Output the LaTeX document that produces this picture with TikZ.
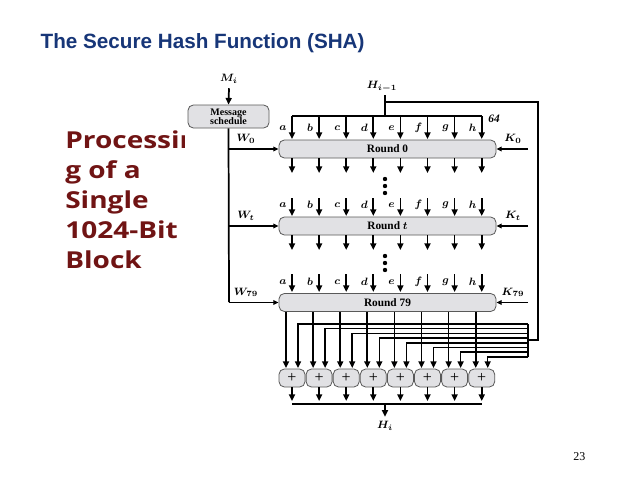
\documentclass[tikz,border=0pt]{standalone}
\usepackage{amsmath}
\usepackage{fontspec}
\setmainfont{Liberation Serif}
\newfontfamily\titlef{Liberation Sans}
\newfontfamily\sidef{Open Sans}
\usetikzlibrary{arrows.meta}
\definecolor{tblue}{RGB}{23,54,120}
\definecolor{dred}{RGB}{112,20,20}
\definecolor{boxg}{RGB}{225,225,228}
\begin{document}
\begin{tikzpicture}[x=0.75pt,y=-0.75pt,
  w/.style={line width=1.3pt},
  arr/.style={w,-{Triangle[length=5pt,width=4.5pt]}},
  thin/.style={line width=0.9pt,-{Triangle[length=4pt,width=3.5pt]}},
  rnd/.style={draw=gray!70!black,fill=boxg,rounded corners=4pt,line width=0.6pt,inner sep=0},
  lab/.style={font=\fontsize{8.5}{8.5}\selectfont\itshape\bfseries},
  rlab/.style={font=\fontsize{8.5}{9}\selectfont\bfseries}]
\useasboundingbox (0,0) rectangle (638,478);
\fill[white] (0,0) rectangle (638,478);
\node[anchor=west,text=tblue,font=\titlef\bfseries\fontsize{15.5}{18}\selectfont] (title) at (36,43) {The Secure Hash Function (SHA)};
\begin{scope}
\clip (0,100) rectangle (184,300);
\node[anchor=north west,text=dred,font=\sidef\bfseries\fontsize{17.5}{22.5}\selectfont,align=left,inner sep=0,transform shape,xscale=1.2] (side) at (65,131) {Processing\\g of a\\Single\\1024-Bit\\Block};
\end{scope}
\node[anchor=east,font=\fontsize{9}{9}\selectfont] (pg) at (590,457) {23};
% message schedule
\node[lab] (mi) at (229,79) {$\boldsymbol{M_i}$};
\node[rnd,minimum width=60.75pt,minimum height=17.25pt,align=center,font=\fontsize{7.5}{7.5}\selectfont\bfseries] (ms) at (228.5,116.5) {Message\\[-1pt]schedule};
\draw[arr] (mi.south) -- (ms.north);
\coordinate (wb) at (229,302);
\draw[w] (ms.south) -- (wb);
% rounds
\foreach \n/\y/\lbl/\wl/\kl in {r0/149/Round 0/W_0/K_0, rt/226/Round $\boldsymbol t$/W_t/K_t, r79/302.5/Round 79/W_{79}/K_{79}}{
  \node[rnd,minimum width=162.75pt,minimum height=13.5pt,rlab] (\n) at (387.5,\y) {\lbl};
  \coordinate (\n wl) at (229,\y);
  \coordinate (\n kr) at (528,\y);
  \draw[thin] (\n wl) -- (\n.west);
  \draw[thin] (\n kr) -- (\n.east);
  \node[lab] at (246,\y-10) {$\boldsymbol{\wl}$};
  \node[lab] at (513,\y-10) {$\boldsymbol{\kl}$};
}
\draw[w] (229,302.5) -- (r79wl);
\foreach \l [count=\i from 0] in {a,b,c,d,e,f,g,h}{
  \pgfmathsetmacro{\xx}{292+27.1*\i}
  \draw[arr] (\xx,116) -- (\xx,139);
  \draw[arr] (\xx,158) -- (\xx,173);
  \draw[arr] (\xx,198) -- (\xx,216);
  \draw[arr] (\xx,235) -- (\xx,250);
  \draw[arr] (\xx,274) -- (\xx,292);
  \node[lab] at (\xx-9,128) {$\boldsymbol{\l}$};
  \node[lab] at (\xx-9,205) {$\boldsymbol{\l}$};
  \node[lab] at (\xx-9,282) {$\boldsymbol{\l}$};
}
\node[lab] at (494,119) {64};
% H_{i-1}
\node[lab] (hin) at (382,87) {$\boldsymbol{H_{i-1}}$};
\draw[w] (385,95) -- (385,116);
\draw[w] (292,116) -- (482,116);
\draw[w] (385,102) -- (538,102) -- (538,340) -- (528,340);
% dots
\foreach \y in {179,186,193,256,263,270} \fill (385,\y) circle (2.2);
% feedback and adders
\foreach \i in {0,...,7}{
  \pgfmathsetmacro{\xx}{292+27.1*\i}
  \pgfmathsetmacro{\yy}{324+4.7*\i}
  \node[rnd,minimum width=19.5pt,minimum height=13.5pt,font=\fontsize{12}{12}\selectfont] (p\i) at (\xx,378) {+};
  \draw[arr] (\xx-6,312) -- (\xx-6,368);
  \draw[line width=1.1pt,-{Triangle[length=5pt,width=4.5pt]}] (528,\yy) -- (\xx+6,\yy) -- (\xx+6,368);
  \draw[arr] (p\i.south) -- (\xx,401);
}
\draw[w] (528,324) -- (528,357);
\draw[w] (292,404) -- (482,404);
\node[lab] (hout) at (385,426) {$\boldsymbol{H_i}$};
\draw[arr] (385,404) -- (hout.north);
\end{tikzpicture}
\end{document}
